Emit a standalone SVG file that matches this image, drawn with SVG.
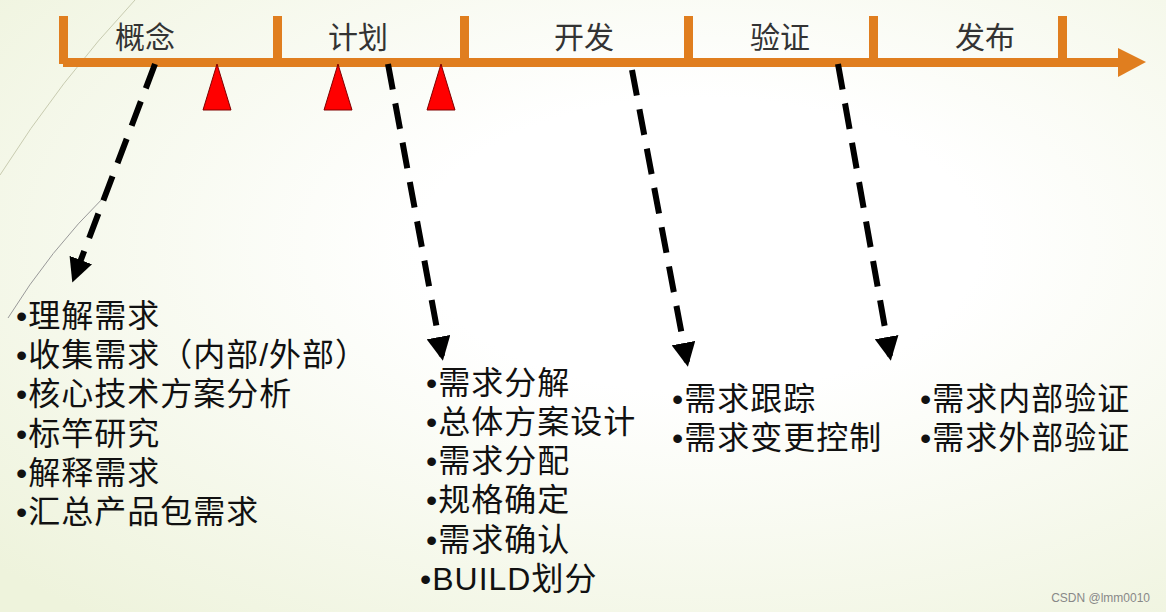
<svg xmlns="http://www.w3.org/2000/svg" width="1166" height="612" viewBox="0 0 1166 612">
<defs>
<radialGradient id="bg" cx="0.6" cy="0.4" r="0.8"><stop offset="0.3" stop-color="#ffffff"/><stop offset="1" stop-color="#eef3dc"/></radialGradient>
<marker id="ah" viewBox="0 0 10 10" refX="8" refY="5" markerWidth="4" markerHeight="4" orient="auto"><path d="M0,0 L10,5 L0,10 z" fill="#000"/></marker>
<style>
.t{font-family:"Liberation Sans","Noto Sans CJK SC",sans-serif;font-size:32px;letter-spacing:1px;fill:#111}
.h{font-family:"Liberation Sans","Noto Sans CJK SC",sans-serif;font-size:30px;fill:#333;text-anchor:middle}
.tick{fill:#e07e1f}
.tri{fill:#ff0000;stroke:#800000;stroke-width:1}
.d{stroke:#000;stroke-width:6;stroke-dasharray:26,14;fill:none;marker-end:url(#ah)}
</style>
</defs>
<rect width="1166" height="612" fill="url(#bg)"/>
<path d="M0,175 Q60,80 135,0" stroke="#c8cbb0" stroke-width="1" fill="none"/>
<path d="M8,318 Q50,250 105,196" stroke="#999" stroke-width="1" fill="none"/>
<g id="timeline">
<rect class="tick" x="63" y="58" width="1060" height="9"/>
<path class="tick" d="M1118,48 L1146,62 L1118,77 z"/>
<rect class="tick" x="59" y="16" width="9" height="48"/>
<rect class="tick" x="273" y="16" width="9" height="48"/>
<rect class="tick" x="460" y="16" width="9" height="48"/>
<rect class="tick" x="684" y="16" width="9" height="48"/>
<rect class="tick" x="869" y="16" width="9" height="48"/>
<rect class="tick" x="1058" y="16" width="9" height="48"/>
<text class="h" x="145" y="48">概念</text>
<text class="h" x="358" y="48">计划</text>
<text class="h" x="584" y="48">开发</text>
<text class="h" x="780" y="48">验证</text>
<text class="h" x="985" y="48">发布</text>
</g>
<g id="milestones">
<path class="tri" d="M217,64 L231,110 L203,110 z"/>
<path class="tri" d="M338,64 L352,110 L324,110 z"/>
<path class="tri" d="M441,64 L455,110 L427,110 z"/>
</g>
<g id="connectors">
<line class="d" x1="155" y1="64" x2="74" y2="278"/>
<line class="d" x1="388" y1="64" x2="442" y2="356"/>
<line class="d" x1="632" y1="70" x2="687" y2="362"/>
<line class="d" x1="838" y1="64" x2="890" y2="356"/>
</g>
<g id="concept">
<text class="t" x="16" y="327">•理解需求</text>
<text class="t" x="16" y="366">•收集需求（内部/外部）</text>
<text class="t" x="16" y="405">•核心技术方案分析</text>
<text class="t" x="16" y="445">•标竿研究</text>
<text class="t" x="16" y="484">•解释需求</text>
<text class="t" x="16" y="523">•汇总产品包需求</text>
</g>
<g id="plan">
<text class="t" x="426" y="394">•需求分解</text>
<text class="t" x="426" y="433">•总体方案设计</text>
<text class="t" x="426" y="472">•需求分配</text>
<text class="t" x="426" y="511">•规格确定</text>
<text class="t" x="426" y="551">•需求确认</text>
<text class="t" x="420" y="590">•BUILD划分</text>
</g>
<g id="develop">
<text class="t" x="672" y="410">•需求跟踪</text>
<text class="t" x="672" y="449">•需求变更控制</text>
</g>
<g id="verify">
<text class="t" x="920" y="410">•需求内部验证</text>
<text class="t" x="920" y="449">•需求外部验证</text>
</g>
<text x="1150" y="602" font-family="Liberation Sans,sans-serif" font-size="12" fill="#888" text-anchor="end">CSDN @lmm0010</text>
</svg>
